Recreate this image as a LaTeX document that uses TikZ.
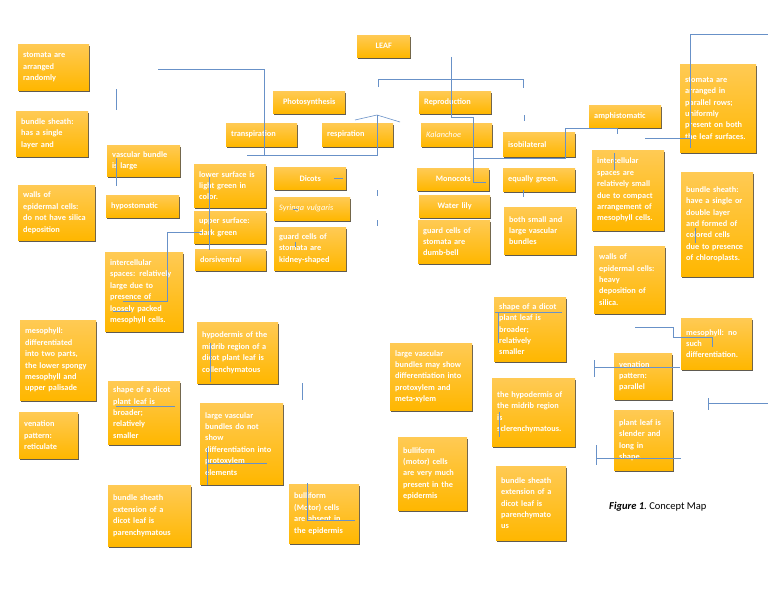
\documentclass[tikz,border=0pt]{standalone}
\usepackage{fontspec}
\setmainfont{Carlito}
\usepackage{tikz}
\usetikzlibrary{shadows, positioning}

\tikzset{
    cbox/.style={anchor=north west, top color=boxtop, bottom color=boxbot, text=white,
        font=\bfseries\fontsize{8.3}{11.4}\selectfont, align=left, inner xsep=5pt, inner ysep=2pt,
        drop shadow={shadow xshift=0.8pt, shadow yshift=-1.6pt, fill=boxrim, opacity=1}},
    link/.style={draw=linkblue, line width=0.6pt},
}

\begin{document}
\begin{tikzpicture}[x=1pt, y=-1pt]
        \definecolor{boxtop}{RGB}{255, 202, 84}
        \definecolor{boxbot}{RGB}{255, 183, 0}
        \definecolor{boxrim}{RGB}{95, 90, 80}
        \definecolor{linkblue}{RGB}{104, 145, 200}
        \path[fill=white] (0,0) rectangle (768,594);
        \useasboundingbox (0,0) rectangle (768,594);

        % top row
        \node[cbox, minimum width=53, minimum height=22, text width=43, align=center] (leaf) at (357,35) {LEAF};
        \node[cbox, minimum width=72, minimum height=22, text width=62, align=center] (photo) at (273,91) {Photosynthesis};
        \node[cbox, minimum width=72, minimum height=22, text width=62] (repro) at (419,91) {Reproduction};
        \node[cbox, minimum width=71, minimum height=23, text width=61] (transp) at (226,123) {transpiration};
        \node[cbox, minimum width=71, minimum height=23, text width=61] (resp) at (322,123) {respiration};
        \node[cbox, minimum width=71, minimum height=23, text width=61] (kalan) at (421,123) {\mdseries\itshape Kalanchoe};
        \node[cbox, minimum width=72, minimum height=24, text width=62] (isobi) at (503,132) {isobilateral};
        \node[cbox, minimum width=72, minimum height=22, text width=62] (amphi) at (589,105) {amphistomatic};

        % dicot side
        \node[cbox, minimum width=71, minimum height=46, text width=61] (stomrand) at (18,44) {stomata are\\arranged\\randomly};
        \node[cbox, minimum width=72, minimum height=45, text width=62] (sheathone) at (16,111) {bundle sheath:\\has a single\\layer and};
        \node[cbox, minimum width=77, minimum height=55, text width=67] (wallsno) at (18,185) {walls of\\epidermal cells:\\do not have silica\\deposition};
        \node[cbox, minimum width=73, minimum height=31, text width=63] (vascbig) at (107,145) {vascular bundle\\is large};
        \node[cbox, minimum width=73, minimum height=22, text width=63] (hypo) at (106,195) {hypostomatic};
        \node[cbox, minimum width=72, minimum height=43, text width=62] (lowsurf) at (194,164) {lower surface is\\light green in\\color.};
        \node[cbox, minimum width=72, minimum height=32, text width=62] (upsurf) at (194,211) {upper surface:\\dark green};
        \node[cbox, minimum width=71, minimum height=21, text width=61] (dorsi) at (195,249) {dorsiventral};
        \node[cbox, minimum width=72, minimum height=22, text width=62, align=center] (dicots) at (274,167) {Dicots};
        \node[cbox, minimum width=76, minimum height=23, text width=66] (syringa) at (274,197) {\mdseries\itshape Syringa vulgaris};
        \node[cbox, minimum width=72, minimum height=43, text width=62] (guardkid) at (274,227) {guard cells of\\stomata are\\kidney-shaped};
        \node[cbox, minimum width=78, minimum height=79, text width=68] (interlarge) at (105,252) {intercellular\\spaces: relatively\\large due to\\presence of\\loosely packed\\mesophyll cells.};
        \node[cbox, minimum width=76, minimum height=80, text width=66] (mesodiff) at (20,320) {mesophyll:\\differentiated\\into two parts,\\the lower spongy\\mesophyll and\\upper palisade};
        \node[cbox, minimum width=59, minimum height=46, text width=49] (venret) at (19,412) {venation\\pattern:\\reticulate};
        \node[cbox, minimum width=72, minimum height=63, text width=62] (shapedic) at (108,381) {shape of a dicot\\plant leaf is\\broader;\\relatively\\smaller};
        \node[cbox, minimum width=81, minimum height=61, text width=71] (hypocoll) at (197,322) {hypodermis of the\\midrib region of a\\dicot plant leaf is\\collenchymatous};
        \node[cbox, minimum width=83, minimum height=81, text width=73] (vascnodiff) at (200,403) {large vascular\\bundles do not\\show\\differentiation into\\protoxylem\\elements};
        \node[cbox, minimum width=83, minimum height=61, text width=73] (extdic) at (108,485) {bundle sheath\\extension of a\\dicot leaf is\\parenchymatous};
        \node[cbox, minimum width=70, minimum height=59, text width=60] (bullabs) at (289,484) {bulliform\\(Motor) cells\\are absent in\\the epidermis};

        % monocot side
        \node[cbox, minimum width=72, minimum height=22, text width=62, align=center] (monocots) at (417,168) {Monocots};
        \node[cbox, minimum width=71, minimum height=22, text width=61, align=center] (waterlily) at (419,195) {Water lily};
        \node[cbox, minimum width=72, minimum height=43, text width=62] (guarddumb) at (418,220) {guard cells of\\stomata are\\dumb-bell};
        \node[cbox, minimum width=72, minimum height=23, text width=62] (eqgreen) at (503,168) {equally green.};
        \node[cbox, minimum width=72, minimum height=47, text width=62] (bothvasc) at (504,207) {both small and\\large vascular\\bundles};
        \node[cbox, minimum width=76, minimum height=88, text width=66] (stompar) at (680,64) {stomata are\\arranged in\\parallel rows;\\uniformly\\present on both\\the leaf surfaces.};
        \node[cbox, minimum width=72, minimum height=80, text width=62] (intersmall) at (592,150) {intercellular\\spaces are\\relatively small\\due to compact\\arrangement of\\mesophyll cells.};
        \node[cbox, minimum width=72, minimum height=104, text width=62] (sheathtwo) at (681,172) {bundle sheath:\\have a single or\\double layer\\and formed of\\colored cells\\due to presence\\of chloroplasts.};
        \node[cbox, minimum width=71, minimum height=67, text width=61] (wallsyes) at (594,246) {walls of\\epidermal cells:\\heavy\\deposition of\\silica.};
        \node[cbox, minimum width=82, minimum height=67, text width=72] (vascdiff) at (390,343) {large vascular\\bundles may show\\differentiation into\\protoxylem and\\meta-xylem};
        \node[cbox, minimum width=72, minimum height=64, text width=62] (shapemon) at (494,297) {shape of a dicot\\plant leaf is\\broader;\\relatively\\smaller};
        \node[cbox, minimum width=83, minimum height=68, text width=73] (hyposcl) at (492,378) {the hypodermis of\\the midrib region\\is\\sclerenchymatous.};
        \node[cbox, minimum width=69, minimum height=73, text width=59] (bullpres) at (398,437) {bulliform\\(motor) cells\\are very much\\present in the\\epidermis};
        \node[cbox, minimum width=70, minimum height=74, text width=60] (extmon) at (496,466) {bundle sheath\\extension of a\\dicot leaf is\\parenchymato\\us};
        \node[cbox, minimum width=71, minimum height=51, text width=61] (mesono) at (681,318) {mesophyll: no\\such\\differentiation.};
        \node[cbox, minimum width=58, minimum height=46, text width=48] (venpar) at (614,353) {venation\\pattern:\\parallel};
        \node[cbox, minimum width=59, minimum height=60, text width=49] (slender) at (614,410) {plant leaf is\\slender and\\long in\\shape.};

        \node[anchor=west, inner xsep=0pt, font=\fontsize{10.5}{12}\selectfont] (caption) at (609,507) {\textbf{\textit{Figure 1}}.\ Concept Map};

        % connector lines
        \draw[link] (451,57) -- (451,117) -- (473,117) -- (473,182) -- (486,182);
        \draw[link] (473,158) -- (565,158) -- (565,128) -- (617,128) -- (617,134);
        \draw[link] (378,87) -- (378,79) -- (523,79) -- (523,88);
        \draw[link] (524,115) -- (524,121);
        \draw[link] (355,120) -- (377,115) -- (400,122);
        \draw[link] (377,115) -- (377,155) -- (247,155);
        \draw[link] (158,69) -- (264,69) -- (264,155);
        \draw[link] (377,190) -- (377,196);
        \draw[link] (377,220) -- (377,226);
        \draw[link] (116,89) -- (116,110);
        \draw[link] (116,158) -- (116,186);
        \draw[link] (209,177) -- (209,250);
        \draw[link] (202,232) -- (167,232) -- (167,301) -- (123,301);
        \draw[link] (113,311) -- (131,311);
        \draw[link] (116,406) -- (175,406);
        \draw[link] (210,343) -- (210,382);
        \draw[link] (302,383) -- (302,400);
        \draw[link] (207,448) -- (207,485);
        \draw[link] (207,463) -- (267,463);
        \draw[link] (307,483) -- (307,520) -- (355,520);
        \draw[link] (562,312) -- (495,312);
        \draw[link] (498,312) -- (498,343);
        \draw[link] (499,412) -- (499,437);
        \draw[link] (635,327) -- (673,327) -- (673,337) -- (712,337) -- (712,347);
        \draw[link] (594,367) -- (680,367);
        \draw[link] (594,360) -- (594,377);
        \draw[link] (708,403) -- (768,403);
        \draw[link] (708,398) -- (708,410);
        \draw[link] (596,458) -- (681,458);
        \draw[link] (596,445) -- (596,465);
        \draw[link] (768,34) -- (690,34) -- (690,148);
        \draw[link] (645,138) -- (690,138);
        \draw[link] (614,153) -- (614,170);
        \draw[link] (695,228) -- (695,243);
        \draw[link] (523,190) -- (523,197);
        \draw[link] (334,178) -- (343,178);
        \draw[link] (293,209) -- (298,209);
        \draw[link] (295,242) -- (295,247);
    \end{tikzpicture}
\end{document}
